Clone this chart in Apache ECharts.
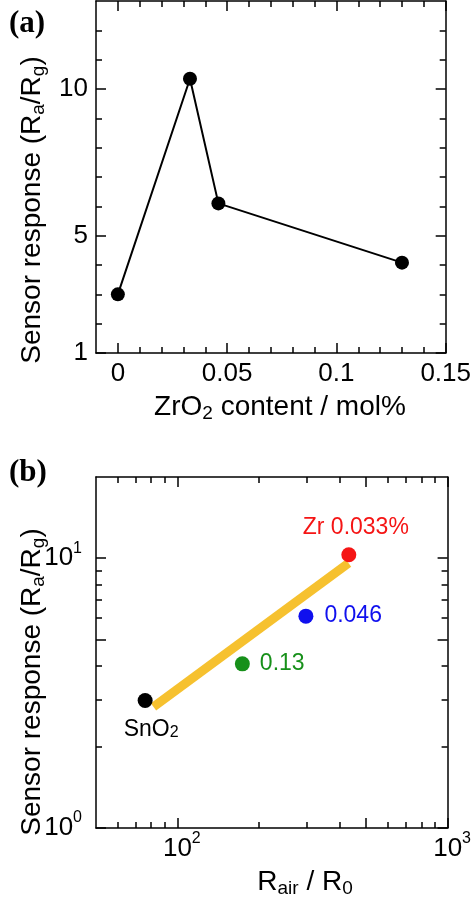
<!DOCTYPE html>
<html>
<head>
<meta charset="utf-8">
<script src="https://cdn.jsdelivr.net/npm/echarts@6/dist/echarts.min.js"></script>
<style>
html, body { margin: 0; padding: 0; background: #fff; }
#main { width: 474px; height: 899px; }
</style>
</head>
<body>
<div id="main"></div>
<script>
// panel (a): response vs ZrO2 content
var zrContent = [0, 0.033, 0.046, 0.13];
var responseA = [3.0, 10.35, 6.1, 4.08];
var xMajorA = [0, 0.05, 0.1, 0.15];
var xMinorA = [0.01, 0.02, 0.03, 0.04, 0.06, 0.07, 0.08, 0.09, 0.11, 0.12, 0.13, 0.14];
var yMajorA = [1, 5, 10];
var yMinorA = [2, 3, 4, 6, 7, 8, 9, 11, 12];
var yLabelsA = [1, 5, 10];

// panel (b): response vs Rair/R0 (log-log)
var pointNames = ['SnO{s|2}', '0.13', '0.046', 'Zr 0.033%'];
var rAir = [76, 174, 299, 431];
var responseB = [2.97, 4.06, 6.1, 10.3];
var fitX = [81.6, 430];
var fitY = [2.81, 9.58];
var xMajorB = [100, 500, 1000];
var xMinorB = [60, 70, 80, 90, 200, 300, 400, 600, 700, 800, 900];
var xLabelsB = [100, 1000];
var yMajorB = [1, 5, 10];
var yMinorB = [2, 3, 4, 6, 7, 8, 9];
var yLabelsB = [1, 10];

var FONT = '"Liberation Sans", Arial, sans-serif';
var RICH = {
    b: { fontSize: 26, lineHeight: 36, fontFamily: FONT, color: '#000' },
    sup: { fontSize: 16, lineHeight: 14, verticalAlign: 'top', fontFamily: FONT, color: '#000' },
    sp: { width: 9 }
};

function axisPair(grid, type, min, max, pos, major, minor, labels, fmt, margin) {
    var tickStyle = { color: '#000', width: 1.5 };
    var main = {
        gridIndex: grid, type: type, min: min, max: max, position: pos,
        axisLine: { show: true, onZero: false, lineStyle: { color: '#000', width: 1.5 } },
        axisTick: { show: true, inside: true, length: 10, customValues: major, lineStyle: tickStyle },
        splitLine: { show: false },
        axisLabel: labels ? {
            show: true, customValues: labels, formatter: fmt, margin: margin,
            color: '#000', fontFamily: FONT, fontSize: 26, rich: RICH
        } : { show: false }
    };
    var sub = {
        gridIndex: grid, type: type, min: min, max: max, position: pos,
        axisLine: { show: false, onZero: false },
        axisTick: { show: true, inside: true, length: 6, customValues: minor, lineStyle: tickStyle },
        splitLine: { show: false },
        axisLabel: { show: false }
    };
    if (type === 'log') { main.logBase = 10; sub.logBase = 10; }
    return [main, sub];
}

var fmtA = function (v) { return String(v); };
var fmtXB = function (v) { return '{sp|}{b|10}{sup|' + Math.round(Math.log(v) / Math.LN10) + '}'; };
var fmtYB = function (v) { return '{b|10}{sup|' + Math.round(Math.log(v) / Math.LN10) + '}'; };

var xAxes = [].concat(
    axisPair(0, 'value', -0.01, 0.15, 'bottom', xMajorA, xMinorA, xMajorA, fmtA, 8),
    axisPair(0, 'value', -0.01, 0.15, 'top', xMajorA, xMinorA),
    axisPair(1, 'log', 50, 1000, 'bottom', xMajorB, xMinorB, xLabelsB, fmtXB, 3),
    axisPair(1, 'log', 50, 1000, 'top', xMajorB, xMinorB)
);
var yAxes = [].concat(
    axisPair(0, 'value', 1, 13, 'left', yMajorA, yMinorA, yLabelsA, fmtA, 8),
    axisPair(0, 'value', 1, 13, 'right', yMajorA, yMinorA),
    axisPair(1, 'log', 1, 20, 'left', yMajorB, yMinorB, yLabelsB, fmtYB, 14),
    axisPair(1, 'log', 1, 20, 'right', yMajorB, yMinorB)
);

var colorsB = ['#000000', '#17901a', '#1010ee', '#f51515'];
var labelPos = [
    { position: 'bottom', distance: 10, offset: [6, 0] },
    { position: 'right', distance: 10 },
    { position: 'right', distance: 11 },
    { position: 'top', distance: 8, offset: [7, 0] }
];

var dataA = zrContent.map(function (x, i) { return [x, responseA[i]]; });
var dataB = rAir.map(function (x, i) {
    return {
        value: [x, responseB[i]],
        itemStyle: { color: colorsB[i], opacity: 1 },
        label: {
            show: true, position: labelPos[i].position, distance: labelPos[i].distance,
            offset: labelPos[i].offset || [0, 0],
            formatter: pointNames[i], color: colorsB[i], fontSize: 23, fontFamily: FONT,
            rich: { s: { fontSize: 16, lineHeight: 14, verticalAlign: 'bottom', fontFamily: FONT, color: colorsB[i] } }
        }
    };
});
var fitData = fitX.map(function (x, i) { return [x, fitY[i]]; });

var titleFont = '28px "Liberation Sans", Arial, sans-serif';
var titleRich = { s: { fontSize: 19, lineHeight: 16, verticalAlign: 'bottom', fontFamily: FONT, fill: '#000' } };

var chart = echarts.init(document.getElementById('main'), null, { renderer: 'canvas' });
chart.setOption({
    animation: false,
    backgroundColor: '#fff',
    grid: [
        { left: 96, top: 1, width: 352, height: 352 },
        { left: 96, top: 477, width: 352, height: 351 }
    ],
    xAxis: xAxes,
    yAxis: yAxes,
    series: [
        {
            type: 'line', xAxisIndex: 0, yAxisIndex: 0, data: dataA,
            symbol: 'circle', symbolSize: 14,
            lineStyle: { color: '#000', width: 2 },
            itemStyle: { color: '#000' }
        },
        {
            type: 'line', xAxisIndex: 4, yAxisIndex: 4, data: fitData,
            symbol: 'none', z: 1,
            lineStyle: { color: '#f6c12f', width: 9, cap: 'butt' }
        },
        {
            type: 'scatter', xAxisIndex: 4, yAxisIndex: 4, data: dataB,
            symbolSize: 15, z: 3, itemStyle: { opacity: 1 }
        }
    ],
    graphic: [
        { type: 'text', x: 9, y: 24, style: { text: '(a)', font: 'bold 31px "Liberation Serif", serif', verticalAlign: 'middle', fill: '#000' } },
        { type: 'text', x: 9, y: 473, style: { text: '(b)', font: 'bold 31px "Liberation Serif", serif', verticalAlign: 'middle', fill: '#000' } },
        { type: 'text', x: 32, y: 210, rotation: Math.PI / 2, style: { text: 'Sensor response (R{s|a}/R{s|g})', font: titleFont, align: 'center', verticalAlign: 'middle', fill: '#000', lineHeight: 32, rich: titleRich } },
        { type: 'text', x: 32, y: 682, rotation: Math.PI / 2, style: { text: 'Sensor response (R{s|a}/R{s|g})', font: titleFont, align: 'center', verticalAlign: 'middle', fill: '#000', lineHeight: 32, rich: titleRich } },
        { type: 'text', x: 280, y: 407, style: { text: 'ZrO{s|2} content / mol%', font: titleFont, align: 'center', verticalAlign: 'middle', fill: '#000', lineHeight: 32, rich: titleRich } },
        { type: 'text', x: 305, y: 882, style: { text: 'R{s|air} / R{s|0}', font: titleFont, align: 'center', verticalAlign: 'middle', fill: '#000', lineHeight: 32, rich: titleRich } }
    ]
});
</script>
</body>
</html>
